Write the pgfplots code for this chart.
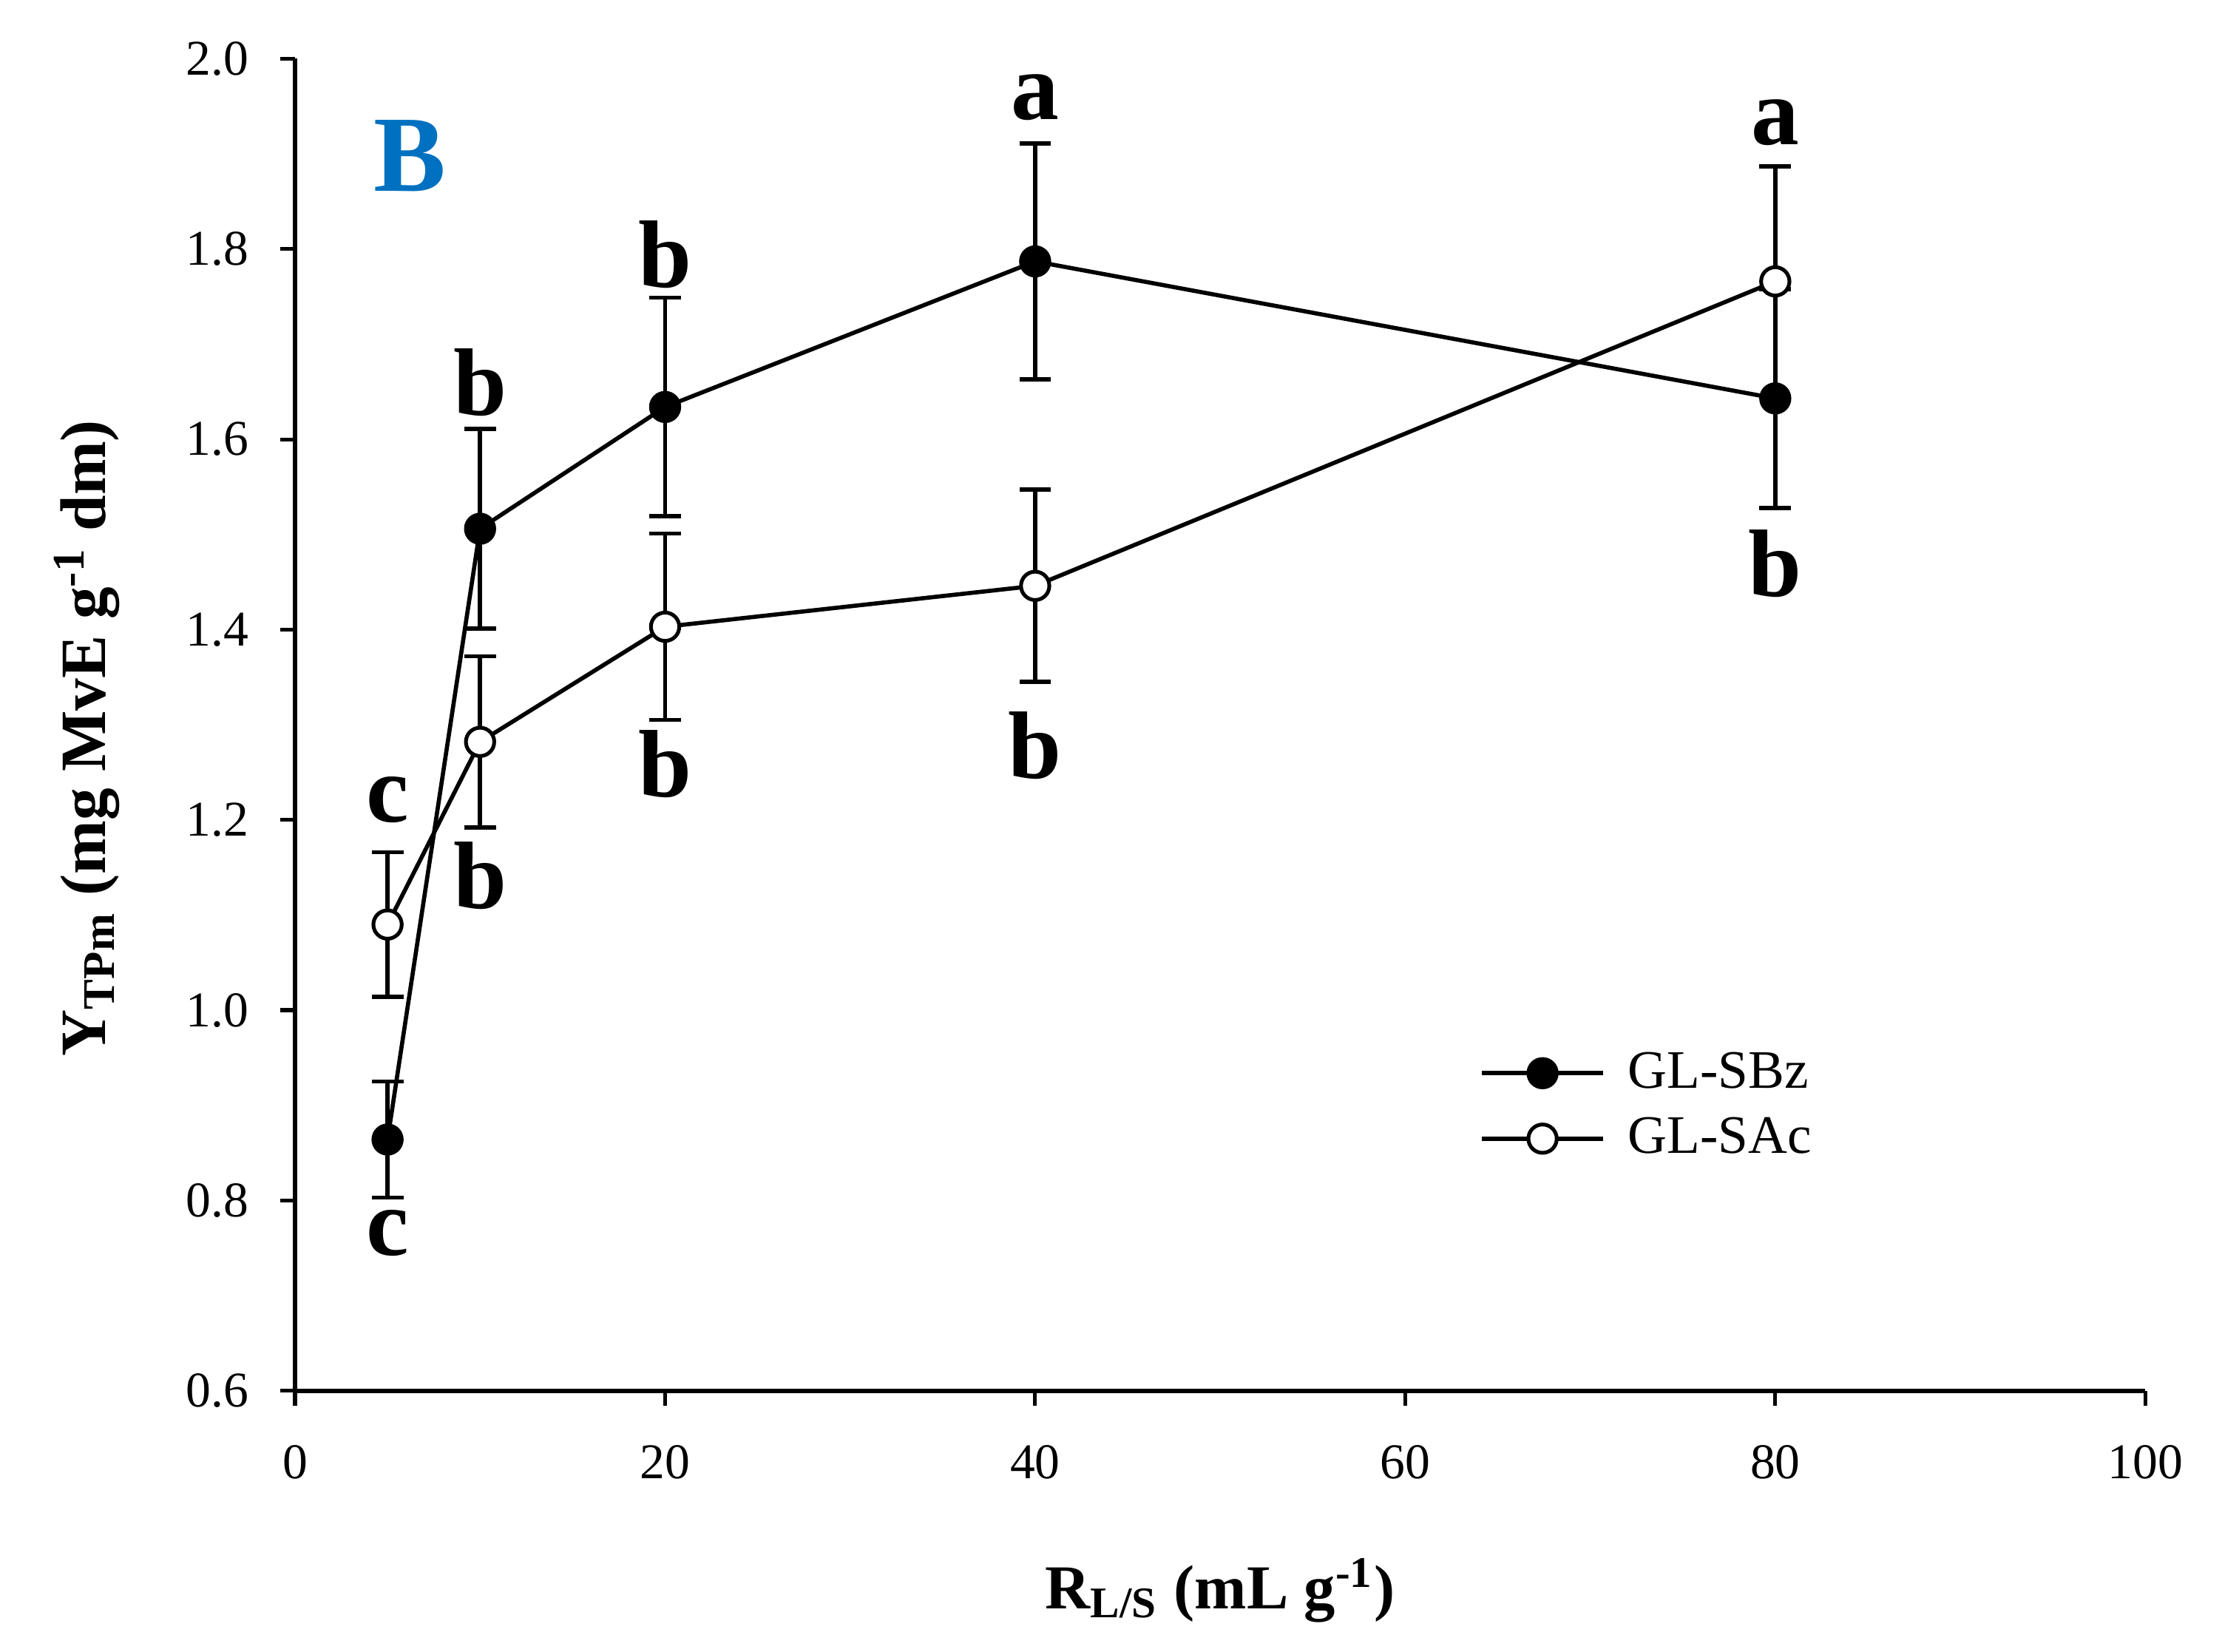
\documentclass[border=0pt]{standalone}
\usepackage{fontspec}
\setmainfont{Liberation Serif}
\usepackage{pgfplots}
\pgfplotsset{compat=1.18}
\usepackage{pgfplotstable}
\definecolor{panelblue}{HTML}{0070C0}

\pgfplotstableread{
x y e
5 0.864 0.061
10 1.506 0.105
20 1.634 0.115
40 1.787 0.124
80 1.643 0.115
}\sbz
\pgfplotstableread{
x y e
5 1.090 0.076
10 1.282 0.090
20 1.403 0.098
40 1.446 0.101
80 1.766 0.121
}\sac

\begin{document}
\begin{tikzpicture}
\useasboundingbox (-70.8pt,-62.6pt) rectangle (462.4pt,333.7pt);
\begin{axis}[
  scale only axis, width=444pt, height=319.6pt,
  xmin=0, xmax=100, ymin=0.6, ymax=2.0,
  axis x line*=bottom, axis y line*=left,
  xtick={0,20,40,60,80,100},
  ytick={0.6,0.8,1.0,1.2,1.4,1.6,1.8,2.0},
  tick align=outside, major tick length=3.6pt,
  minor tick num=0,
  tick style={line width=0.9pt, black},
  axis line style={line width=1.1pt},
  /pgf/number format/assume math mode=true,
  yticklabel style={/pgf/number format/.cd, fixed, fixed zerofill, precision=1},
  tick label style={font=\fontsize{12}{14}\selectfont},
  yticklabel shift=4pt,
  xticklabel shift=6pt,
  xlabel={\textbf{R\textsubscript{L/S} (mL g\textsuperscript{-1})}},
  ylabel={\textbf{Y\textsubscript{TPm} (mg MvE g\textsuperscript{-1} dm)}},
  xlabel style={font=\fontsize{15}{18}\selectfont, at={(axis description cs:0.5,-0.150)}, anchor=center},
  ylabel style={font=\fontsize{15.5}{18}\selectfont, at={(axis description cs:-0.1125,0.49)}, anchor=center, rotate=0},
  legend style={draw=none, fill=none, at={(axis cs:64.0,0.9655)}, anchor=north west,
    font=\fontsize{13}{15}\selectfont, row sep=1.6pt, inner sep=0pt,
    /tikz/every odd column/.append style={column sep=3.5pt}},
  legend cell align=left,
  legend image code/.code={\draw[mark repeat=2, mark phase=2, #1] plot coordinates {(0pt,0pt) (14.5pt,0pt) (29pt,0pt)};},
  every axis plot/.append style={line width=1.0pt},
  clip=false,
]
\addplot[black, mark=*, mark size=3.4pt, mark options={fill=black, line width=0.9pt},
  error bars/.cd, y dir=both, y explicit, error mark=|,
  error bar style={line width=1.0pt, black},
  error mark options={line width=1.0pt, mark size=3.8pt, black}]
  table[x=x, y=y, y error=e] {\sbz};
\addlegendentry{GL-SBz}
\addplot[black, mark=*, mark size=3.4pt, mark options={fill=white, line width=0.9pt},
  error bars/.cd, y dir=both, y explicit, error mark=|,
  error bar style={line width=1.0pt, black},
  error mark options={line width=1.0pt, mark size=3.8pt, black}]
  table[x=x, y=y, y error=e] {\sac};
\addlegendentry{GL-SAc}

\begin{scope}[every node/.style={font=\bfseries\fontsize{23}{26}\selectfont, anchor=base, inner sep=0pt}]
\node at (axis cs:5,1.198) {c};
\node at (axis cs:5,0.742) {c};
\node at (axis cs:10,1.625) {b};
\node at (axis cs:10,1.107) {b};
\node at (axis cs:20,1.760) {b};
\node at (axis cs:20,1.224) {b};
\node at (axis cs:40,1.936) {a};
\node at (axis cs:40,1.244) {b};
\node at (axis cs:80,1.910) {a};
\node at (axis cs:80,1.435) {b};
\end{scope}
\node[font=\bfseries\fontsize{26}{30}\selectfont, text=panelblue, anchor=center] at (axis cs:6.2,1.898) {B};
\end{axis}
\end{tikzpicture}
\end{document}
